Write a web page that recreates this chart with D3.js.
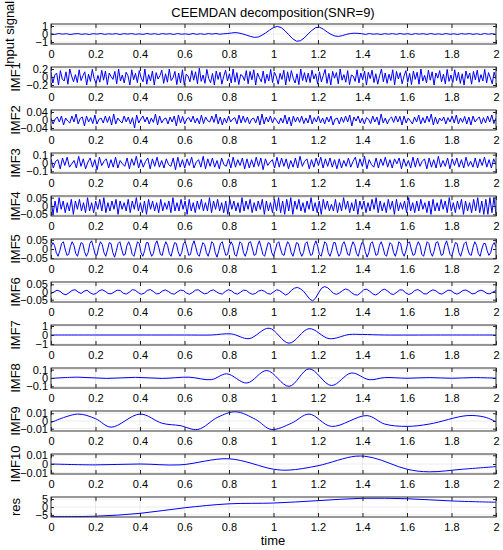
<!DOCTYPE html>
<html><head><meta charset="utf-8">
<script src="https://cdn.jsdelivr.net/npm/d3@7"></script>
<style>body{margin:0;background:#fff}svg{font-family:"Liberation Sans",Arial,sans-serif}</style>
</head><body><div id="canvas"></div>
<script>
var inputSig = [.03,-.05,.06,-.02,.04,-.06,.01,.05,-.04,.02,-.06,.04,-.01,.06,-.05,.03,-.02,.05,-.06,.04,-.01,.05,-.04,.02,-.05,.06,-.03,.04,-.06,.05,-.02,.04,-.06,.06,-.03,.02,-.05,.06,-.04,.03,-.05,.05,-.01,.06,-.03,.03,
  .06,.12,.18,.12,0,-.15,-.3,-.42,-.38,-.15,.15,.5,.8,.95,.8,.4,-.1,-.6,-.9,-.85,-.5,0,.45,.8,.85,.6,.25,-.05,-.25,-.3,-.2,-.05,.05,.1,.08,
  .04,-.05,.06,-.03,.03,-.06,.04,-.02,.05,-.04,.06,-.03,.04,-.06,.05,-.02,.04,-.05,.06,-.04,.02,-.05,.06,-.04,.03,-.06,.05,-.02,.05,-.04,.03,-.06,.06,-.03,.04,-.05];
var imf1 = [.12,-.15,.05,.1,-.2,.16,-.05,-.1,.13,-.18,.2,.02,-.12,.06,-.14,.18,-.09,.03,.13,-.2,.07,-.11,.19,-.04,-.16,.04,-.13,.17,-.08,.15,-.19,.1,.01,-.06,.14,-.17,.2,-.1,.05,-.15,.12,.03,-.2,.18,-.07,.09,-.14,.16,-.02,-.12,.2,-.18,.06,-.1,.15,-.2,.11,-.05,.03,.17,-.16,.08,-.13,.2,-.09,-.02,.14,-.19,.1,-.15,.18,-.2,.07,.02,-.12,.16,-.08,.13,-.17,.22,-.11,.05,-.16,.19,-.04,-.14,.09,-.2,.15,-.06,.12,-.18,.02,.17,-.1,.08,-.15,.2,-.13,.11,-.19,.06,.03,-.09,.16,-.17,.14,-.07,.18,-.2,.1,-.02,-.12,.15,-.16,.07,-.1,.19,-.14,.12,.01,-.18,.09,-.06,.17,-.2,.13,-.11,.16,-.03,-.15,.08,-.19,.2,-.09,.11,-.13,.1,
  -.14,.17,-.05,.08,-.18,.13,-.12,.04,.19,-.16,.09,-.2,.14,-.03,.11,-.17,.2,-.08,.06,-.13,.16,-.19,.05,.02,-.11,.18,-.15,.1,-.07,.15,-.2,.12,-.04,.17,-.14,.08,-.18,.03,.2,-.12,.1,-.16,.07,-.09,.18,-.2,.14,-.05,.11,-.17,.02,.16,-.13,.09,-.19,.15,-.06,.12,-.18,.2,-.1,.04,-.15,.17,-.08,.13,-.2,.1,-.03,.16,-.12,.07,-.17,.19,-.11,.05,-.14,.18,-.09,.12,-.16,.08,-.2,.15,-.04,.1,-.18,.14,-.07,.17,-.13,.06,-.1,.19,-.15,.11,-.02,-.17,.12,-.05];
var imf2 = [.01,-.02,.005,.015,-.01,.02,-.025,.01,-.005,-.015,.02,-.01,.03,-.02,.008,.015,-.03,.02,-.01,.012,-.018,.025,-.02,.004,.01,-.015,.02,-.012,.018,-.025,.03,-.02,.01,-.005,-.015,.02,-.01,.015,-.02,.012,-.04,.025,-.015,.005,.02,-.01,.015,-.02,.01,-.012,.03,-.025,.02,-.015,.004,.01,-.02,.015,-.01,.02,-.03,.025,-.015,.018,-.02,.006,.012,-.01,.02,-.015,.01,-.02,.025,-.018,.015,-.004,-.01,.02,-.012,.03,-.02,.015,-.025,.01,-.015,.02,-.01,.005,.012,-.02,.025,-.015,.02,-.012,.015,-.02,.004,.01,-.015,.02,-.025,.03,-.02,.015,-.01,.02,-.015,.012,-.003,-.02,.01,-.015,.025,-.02,.015,-.03,.02,-.01,.015,-.012,.02,-.018,.01,-.015,.025,-.02,.012,-.01,.02,-.015,.01,-.02,
  .015,-.01,.02,-.025,.005,.01,-.02,.015,-.012,.02,-.01,.025,-.03,.015,-.005,.02,-.015,.01,-.02,.012,.004,-.018,.02,-.01,.015,-.025,.03,-.015,.01,-.02,.005,.015,-.012,.02,-.01,.018,-.025,.02,-.015,.01,-.004,-.02,.015,-.01,.025,-.02,.012,-.015,.02,-.01,.03,-.025,.015,-.02,.01,-.005,.015,-.02,.012,-.01,.02,-.015,.025,-.02,.01,-.012,.018,-.02,.015,-.025,.02,-.01,.005,.015,-.02,.012,-.015,.02,-.01,.025,-.018,.01];
var imf3 = [.05,-.06,.02,.04,-.07,.06,-.03,.07,-.05,-.01,.03,-.06,.08,-.04,.05,-.07,.01,.06,-.05,.04,-.08,.07,-.03,.02,.05,-.06,.04,-.05,.07,-.06,.03,-.01,-.04,.06,-.07,.05,-.03,.08,-.06,.04,-.05,.02,.06,-.07,.05,-.04,.07,-.05,.03,-.06,.05,-.02,-.04,.06,-.08,.07,-.05,.04,-.06,.05,-.03,.07,-.06,.01,.04,-.05,.08,-.07,.05,-.04,.06,-.05,.03,-.07,.06,-.02,-.04,.05,-.06,.07,-.05,.04,-.03,.06,-.07,.05,-.06,.04,-.05,.07,-.04,.06,-.08,.05,-.03,.01,.04,-.06,.07,-.05,.06,-.04,.05,-.07,.03,-.05,.06,-.06,.08,-.04,.02,.05,-.07,.04,-.05,.06,-.03,.07,-.06,.05,
  -.04,.06,-.05,.04,-.07,.05,-.06,.03,-.04,.06,-.05,.02,.07,-.06,.05,-.04,.08,-.07,.04,-.02,-.05,.06,-.06,.05,-.03,.07,-.05,.04,-.06,.05,-.01,.06,-.07,.05,-.04,.03,-.06,.07,-.05,.06,-.04,.02,.05,-.07,.06,-.05,.04,-.06,.08,-.05,.03,-.04,.06,-.07,.05,-.03,.06,-.05,.04,-.06,.07,-.04,.02,-.05,.06,-.06,.05,-.03,.07,-.05,.04,-.06,.05,-.02];
var imf4 = [.04,-.05,.03,-.04,.05,-.02,.03,-.04,.02,-.03,.04,-.05,.03,-.02,.04,-.03,.02,-.04,.05,-.03,.02,-.04,.03,-.02,.04,-.03,.05,-.04,.02,-.03,.03,-.02,.04,-.05,.03,-.02,.02,-.03,.04,-.04,.03,-.02,.05,-.03,.02,-.04,.03,-.05,.04,-.02,.03,-.03,.02,-.04,.04,-.03,.02,-.02,.03,-.04,.05,-.03,.02,-.03,.04,-.02,.03,-.05,.04,-.03,.02,-.04,.03,-.02,.04,-.03,.02,-.03,.05,-.04,.03,-.02,.04,-.03,.02,-.04,.03,-.05,.04,-.02,.03,-.03,.02,-.04,.05,-.03,.03,-.02,.04,-.04,.02,-.03,.03,-.02,.04,-.05,.03,-.03,.02,-.04,.04,-.03,.05,-.04,.03,-.05,.04,-.03,.05,-.05,
  .03,-.02,.04,-.03,.02,-.04,.03,-.02,.05,-.03,.02,-.04,.03,-.05,.04,-.02,.03,-.03,.01,-.03,.04,-.04,.02,-.03,.05,-.02,.03,-.04,.02,-.03,.04,-.05,.03,-.02,.03,-.04,.02,-.03,.04,-.02,.05,-.04,.03,-.03,.02,-.04,.04,-.02,.03,-.05,.04,-.03,.02,-.02,.03,-.04,.05,-.03,.02,-.04,.03,-.03,.04,-.02,.02,-.04,.03,-.05,.04,-.03,.02,-.03,.04,-.02,.03,-.04,.05,-.03,.02,-.04,.03,-.02,.04,-.05,.03,-.03,.02,-.04,.04,-.03,.05,-.04,.03,-.05,.04,-.05,.05,-.04,.05,-.05];
var imf5 = [.01,.035,.02,-.02,-.04,-.01,.03,.04,0,-.035,-.03,.015,.04,.02,-.025,-.04,0,.035,.03,-.015,-.04,-.02,.03,.045,.01,-.03,-.035,.01,.04,.025,-.02,-.04,-.005,.035,.03,-.02,-.045,-.01,.03,.04,0,-.035,-.03,.02,.04,.015,-.03,-.04,0,.04,.03,-.02,-.04,-.01,.035,.035,-.01,-.04,-.025,.025,.045,.01,-.03,-.035,.01,.04,.02,-.025,-.04,0,.035,.03,-.015,-.04,-.02,.03,.04,.005,-.035,-.03,.02,.045,.01,-.03,-.04,0,.035,.025,-.02,-.04,-.005,.04,.03,-.02,-.045,-.01,.03,.04,0,-.035,-.03,.015,.04,.02,-.03,-.04,0,.04,.03,-.02,-.04,-.01,.035,.04,.005,-.035,-.03,.02,.045,.01,-.03,-.04,0,.035,.03,-.02,-.04,-.005,.03,.04,0,-.03,
  -.035,.01,.04,.025,-.02,-.04,-.005,.035,.03,-.015,-.04,-.02,.03,.04,0,-.035,-.03,.02,.045,.015,-.03,-.04,0,.04,.03,-.02,-.04,-.01,.035,.035,-.01,-.04,-.025,.025,.04,.01,-.03,-.035,.01,.04,.02,-.025,-.04,0,.035,.03,-.015,-.045,-.02,.03,.04,.005,-.035,-.03,.02,.04,.01,-.03,-.04,0,.035,.025,-.02,-.04,-.005,.04,.03,-.02,-.04,-.01,.03,.04,0,-.035,-.03,.015,.04,.02,-.03,-.04,0,.04,.03,-.02,-.04,-.01,.035,.04,.005,-.035,-.03,.02,.045,.01,-.03,-.04,0,.035,.03,-.02,-.04,-.005,.03,.04,0,-.03,-.035,.01,.04,.02,-.025,-.04,0,.03,.03,-.01,-.035,-.02,.02,.035,.01];
var imf6 = [-.01,0,.012,.005,-.012,-.018,-.005,.01,.015,0,-.01,.005,.012,-.005,-.015,-.01,.008,.015,.005,-.01,-.012,0,.012,.01,-.008,-.014,-.002,.015,.012,-.004,-.015,-.008,.01,.016,.004,-.012,-.01,.006,.014,.004,-.01,-.014,0,.012,.01,-.006,-.015,-.004,.012,.014,0,-.012,-.008,.008,.014,.002,-.01,-.013,.004,.015,.008,-.008,-.014,-.002,.012,.01,-.006,-.015,-.01,.006,.012,.005,-.01,-.014,0,.014,.01,-.005,-.02,-.01,.012,.025,.03,.02,.005,-.02,-.045,-.058,-.04,-.005,.025,.035,.028,.01,-.01,-.015,-.005,.01,.02,.012,-.005,-.018,-.02,-.005,.015,.018,.005,-.012,-.02,-.008,.012,.018,.006,-.012,-.016,-.002,.014,.012,-.006,-.016,-.008,.01,.016,.004,-.012,-.012,.004,.014,.008,-.008,-.014,-.002,.012,.01,-.006,-.014,-.005,.01,.013,.002,-.012,-.01,.005,.012,.004,-.01,-.012,0,.01];
var imf7 = [[0,0],[0.2,0],[0.4,0],[0.6,0],[0.72,0],[0.81,0.12],[0.89,-0.4],[0.98,0.75],[1.07,-0.9],[1.16,0.7],[1.25,-0.4],[1.34,0.05],[1.4,0.06],[1.5,0],[1.75,0],[2,0]];
var imf8 = [[0,-0.005],[0.12,0.01],[0.25,-0.005],[0.38,0.008],[0.5,-0.005],[0.62,0.01],[0.72,-0.02],[0.79,0.05],[0.88,-0.06],[0.97,0.09],[1.07,-0.1],[1.16,0.11],[1.26,-0.09],[1.35,0.06],[1.43,-0.02],[1.5,0.005],[1.6,-0.003],[1.7,0.005],[1.8,-0.003],[1.9,0.005],[2,-0.002]];
var imf9 = [[0,-0.002],[0.12,0.009],[0.2,0.003],[0.27,-0.008],[0.4,0.009],[0.5,-0.003],[0.58,-0.006],[0.66,-0.011],[0.75,0.005],[0.83,0.012],[0.92,0.002],[0.99,-0.011],[1.08,-0.003],[1.16,0.009],[1.26,-0.007],[1.42,0.007],[1.5,-0.004],[1.6,-0.007],[1.7,-0.004],[1.87,0.007],[1.95,0.005],[2,-0.001]];
var imf10 = [[0,0],[0.2,-0.001],[0.4,0],[0.58,-0.001],[0.8,0.006],[1.0,-0.006],[1.07,-0.007],[1.2,-0.002],[1.37,0.009],[1.45,0.007],[1.6,-0.006],[1.7,-0.009],[1.85,-0.006],[2,-0.003]];
var res = [[0,-6],[0.2,-5.8],[0.4,-4],[0.6,-0.5],[0.8,2],[1,2.5],[1.2,4],[1.4,5.5],[1.6,5.2],[1.8,3.8],[2,3]];

var names = ["Input signal","IMF1","IMF2","IMF3","IMF4","IMF5","IMF6","IMF7","IMF8","IMF9","IMF10","res"];
var series = [inputSig,imf1,imf2,imf3,imf4,imf5,imf6,imf7,imf8,imf9,imf10,res];
var yLims = [1.25,0.25,0.05,0.12,0.06,0.055,0.065,1.1,0.12,0.013,0.0115,6.3];
var yTicks = [[-1,0,1],[-0.2,0,0.2],[-0.04,0,0.04],[-0.1,0,0.1],[-0.05,0,0.05],[-0.05,0,0.05],[-0.05,0,0.05],[-1,0,1],[-0.1,0,0.1],[-0.01,0,0.01],[-0.01,0,0.01],[-5,0,5]];
var xTicks = [0,0.2,0.4,0.6,0.8,1,1.2,1.4,1.6,1.8,2];

var W = 503, H = 550, left = 51, right = 496, top0 = 24, ph = 20, step = 43;
var svg = d3.select("#canvas").append("svg").attr("width", W).attr("height", H);
var x = d3.scaleLinear().domain([0,2]).range([left,right]);

svg.append("text").attr("x",273).attr("y",17).attr("text-anchor","middle").attr("font-size",13).text("CEEMDAN decomposition(SNR=9)");
svg.append("text").attr("x",273).attr("y",545).attr("text-anchor","middle").attr("font-size",13).text("time");

series.forEach(function(s,k){
	var t = top0 + k*step;
	var y = d3.scaleLinear().domain([-yLims[k],yLims[k]]).range([t+ph,t]);
	var g = svg.append("g");
	var pts = Array.isArray(s[0]) ? s : s.map(function(v,i){return [2*i/(s.length-1), v];});
	// grid
	g.selectAll(".gx").data(xTicks).enter().append("line")
		.attr("x1",function(d){return x(d);}).attr("x2",function(d){return x(d);})
		.attr("y1",t).attr("y2",t+ph).attr("stroke","#e3e3e3").attr("stroke-width",0.7);
	g.selectAll(".gy").data(yTicks[k]).enter().append("line")
		.attr("x1",left).attr("x2",right)
		.attr("y1",function(d){return y(d);}).attr("y2",function(d){return y(d);})
		.attr("stroke","#e3e3e3").attr("stroke-width",0.7);
	g.append("clipPath").attr("id","c"+k).append("rect").attr("x",left).attr("y",t).attr("width",right-left).attr("height",ph);
	var line = d3.line().x(function(d){return x(d[0]);}).y(function(d){return y(d[1]);});
	if (Array.isArray(s[0])) line.curve(d3.curveCatmullRom);
	g.append("path").attr("d",line(pts)).attr("fill","none").attr("stroke","#0000ff").attr("stroke-width",1).attr("clip-path","url(#c"+k+")");
	// axes
	g.append("g").attr("transform","translate(0,"+(t+ph)+")")
		.call(d3.axisBottom(x).tickValues(xTicks).tickFormat(d3.format("")).tickSizeInner(-4).tickSizeOuter(0).tickPadding(6));
	g.append("g").attr("transform","translate(0,"+t+")")
		.call(d3.axisTop(x).tickValues(xTicks).tickFormat("").tickSizeInner(-4).tickSizeOuter(0));
	g.append("g").attr("transform","translate("+left+",0)")
		.call(d3.axisLeft(y).tickValues(yTicks[k]).tickFormat(function(d){return d==0?"0":String(d).replace("-","\u2212");}).tickSizeInner(-3).tickSizeOuter(0).tickPadding(3));
	g.append("g").attr("transform","translate("+right+",0)")
		.call(d3.axisRight(y).tickValues(yTicks[k]).tickFormat("").tickSizeInner(-3).tickSizeOuter(0));
	g.append("rect").attr("x",left).attr("y",t).attr("width",right-left).attr("height",ph).attr("fill","none").attr("stroke","#333").attr("stroke-width",1);
	g.selectAll(".domain").remove();
	g.selectAll(".tick text").attr("font-size",11).attr("fill","#000").attr("font-family","Liberation Sans, Arial, sans-serif");
	g.selectAll(".tick line").attr("stroke","#222");
	g.append("text").attr("transform","translate("+(k==0?14:20)+","+(t+ph/2)+") rotate(-90)")
		.attr("text-anchor","middle").attr("font-size",13).text(names[k]);
});
</script></body></html>
